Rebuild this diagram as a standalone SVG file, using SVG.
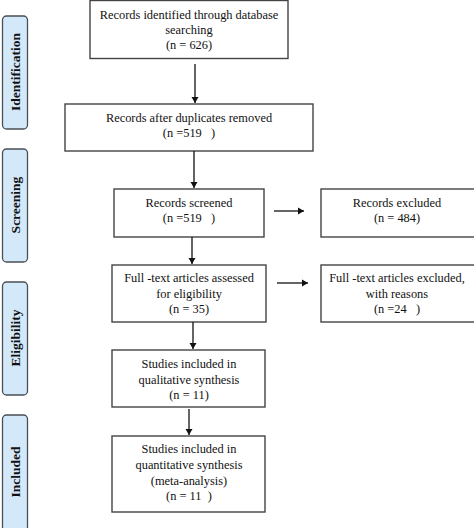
<svg xmlns="http://www.w3.org/2000/svg" width="474" height="528" viewBox="0 0 474 528">
<defs>
<marker id="ah" markerWidth="8" markerHeight="8" refX="6" refY="4" orient="auto" markerUnits="userSpaceOnUse">
<path d="M0,0.5 L6,4 L0,7.5 Z" fill="#111"/>
</marker>
</defs>
<style>
.box{fill:#fff;stroke:#444;stroke-width:1.4}
.lab{fill:#d3e9fa;stroke:#4a4f55;stroke-width:1.3}
.t{font-family:"Liberation Serif","Times New Roman",serif;font-size:12.4px;fill:#111;text-anchor:middle;white-space:pre}
.lt{font-family:"Liberation Serif","Times New Roman",serif;font-size:13.5px;font-weight:bold;fill:#111;text-anchor:middle}
.c{stroke:#111;stroke-width:1.3;fill:none;marker-end:url(#ah)}
</style>
<rect width="474" height="528" fill="#fff"/>
<g id="stage-identification"><rect class="lab" x="2.5" y="16" width="25" height="113" rx="4"/><text class="lt" transform="translate(20,72) rotate(-90)">Identification</text></g>
<g id="stage-screening"><rect class="lab" x="2.5" y="149" width="25" height="113" rx="4"/><text class="lt" transform="translate(20,205) rotate(-90)">Screening</text></g>
<g id="stage-eligibility"><rect class="lab" x="2.5" y="282" width="25" height="113" rx="4"/><text class="lt" transform="translate(20,338) rotate(-90)">Eligibility</text></g>
<g id="stage-included"><rect class="lab" x="2.5" y="415" width="25" height="118" rx="4"/><text class="lt" transform="translate(20,472) rotate(-90)">Included</text></g>
<g id="n1"><rect class="box" x="90" y="0.5" width="198" height="58"/><text class="t" x="189" y="19" xml:space="preserve">Records identified through database</text><text class="t" x="189" y="34">searching</text><text class="t" x="189" y="49">(n = 626)</text></g>
<g id="n2"><rect class="box" x="65" y="104" width="248" height="47"/><text class="t" x="189" y="122">Records after duplicates removed</text><text class="t" x="189" y="137" xml:space="preserve">(n =519   )</text></g>
<g id="n3"><rect class="box" x="114" y="189" width="150" height="48"/><text class="t" x="189" y="207">Records screened</text><text class="t" x="189" y="222" xml:space="preserve">(n =519   )</text></g>
<g id="n4"><rect class="box" x="321" y="189" width="160" height="48"/><text class="t" x="397" y="207">Records excluded</text><text class="t" x="397" y="222">(n = 484)</text></g>
<g id="n5"><rect class="box" x="112" y="265" width="154" height="57"/><text class="t" x="189" y="282">Full -text articles assessed</text><text class="t" x="189" y="298">for eligibility</text><text class="t" x="189" y="313">(n = 35)</text></g>
<g id="n6"><rect class="box" x="321" y="265" width="160" height="57"/><text class="t" x="397" y="282">Full -text articles excluded,</text><text class="t" x="397" y="298">with reasons</text><text class="t" x="397" y="313" xml:space="preserve">(n =24   )</text></g>
<g id="n7"><rect class="box" x="112" y="350" width="153" height="57"/><text class="t" x="189" y="368">Studies included in</text><text class="t" x="189" y="384">qualitative synthesis</text><text class="t" x="189" y="399">(n = 11)</text></g>
<g id="n8"><rect class="box" x="112" y="436" width="153" height="76"/><text class="t" x="189" y="453">Studies included in</text><text class="t" x="189" y="469">quantitative synthesis</text><text class="t" x="189" y="485">(meta-analysis)</text><text class="t" x="189" y="500" xml:space="preserve">(n = 11  )</text></g>
<g id="connectors">
<line class="c" x1="195" y1="64" x2="195" y2="103"/>
<line class="c" x1="194" y1="151" x2="194" y2="188"/>
<line class="c" x1="274" y1="211" x2="304" y2="211"/>
<line class="c" x1="192" y1="237" x2="192" y2="264"/>
<line class="c" x1="277" y1="283" x2="308" y2="283"/>
<line class="c" x1="193" y1="322" x2="193" y2="349"/>
<line class="c" x1="189" y1="409" x2="189" y2="435"/>
</g>
</svg>
